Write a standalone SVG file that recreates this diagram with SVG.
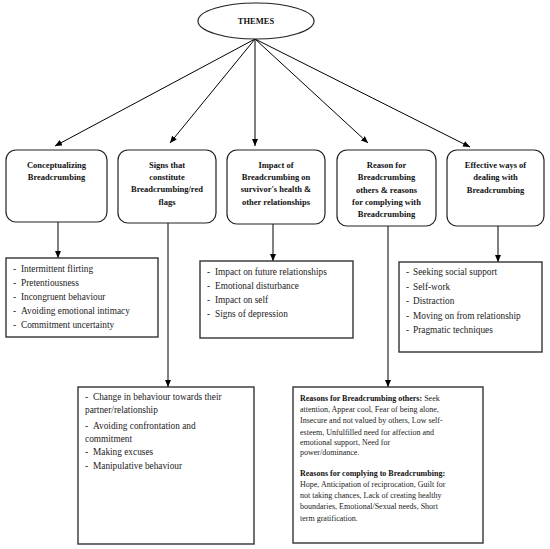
<svg xmlns="http://www.w3.org/2000/svg" width="550" height="549" viewBox="0 0 550 549">
<defs>
<marker id="ah" markerWidth="7" markerHeight="6" refX="7" refY="3" orient="auto" markerUnits="userSpaceOnUse">
<path d="M0,0 L7,3 L0,6 z" fill="#000"/>
</marker>
<style>
.t{font-family:"Liberation Serif","Times New Roman",serif;font-weight:bold;font-size:8.5px;fill:#111;text-anchor:middle}
.l{font-family:"Liberation Serif","Times New Roman",serif;font-size:9.3px;fill:#222}
.s{font-family:"Liberation Serif","Times New Roman",serif;font-size:8px;fill:#222}
.sb{font-weight:bold;fill:#111}
.rb{fill:#fff;stroke:#222;stroke-width:1.2}
.bx{fill:#fff;stroke:#333;stroke-width:1.4}
.c{stroke:#000;stroke-width:1;fill:none;marker-end:url(#ah)}
.cl{stroke:#000;stroke-width:1;fill:none}
</style>
</defs>
<rect width="550" height="549" fill="#fff"/>

<g id="connectors">
<line class="c" x1="255" y1="39" x2="55" y2="146"/>
<line class="c" x1="255" y1="39" x2="170" y2="143"/>
<line class="c" x1="255" y1="39" x2="255" y2="146"/>
<line class="c" x1="255" y1="39" x2="368" y2="143"/>
<line class="c" x1="255" y1="39" x2="470" y2="147"/>
<line class="c" x1="58" y1="222" x2="58" y2="258"/>
<line class="c" x1="168" y1="223" x2="168" y2="387"/>
<line class="c" x1="273" y1="224" x2="273" y2="261"/>
<line class="c" x1="388" y1="226" x2="388" y2="387"/>
<line class="c" x1="498" y1="226" x2="498" y2="262"/>
</g>

<g id="themes">
<ellipse cx="256" cy="21" rx="58" ry="18" fill="#fff" stroke="#222" stroke-width="1.2"/>
<text class="t" x="256" y="24" font-size="8.5">THEMES</text>
</g>

<g id="conceptualizing">
<rect class="rb" x="6" y="150" width="101" height="72" rx="10"/>
<text class="t" x="56.5" y="168">Conceptualizing</text>
<text class="t" x="56.5" y="180">Breadcrumbing</text>
</g>

<g id="signs">
<rect class="rb" x="118" y="150" width="98" height="73" rx="10"/>
<text class="t" x="167" y="168">Signs that</text>
<text class="t" x="167" y="180">constitute</text>
<text class="t" x="167" y="192">Breadcrumbing/red</text>
<text class="t" x="167" y="205">flags</text>
</g>

<g id="impact">
<rect class="rb" x="227" y="150" width="98" height="74" rx="10"/>
<text class="t" x="276" y="168">Impact of</text>
<text class="t" x="276" y="180">Breadcrumbing on</text>
<text class="t" x="276" y="192">survivor's health &amp;</text>
<text class="t" x="276" y="205">other relationships</text>
</g>

<g id="reason">
<rect class="rb" x="337" y="150" width="99" height="76" rx="10"/>
<text class="t" x="386.5" y="168">Reason for</text>
<text class="t" x="386.5" y="180">Breadcrumbing</text>
<text class="t" x="386.5" y="193">others &amp; reasons</text>
<text class="t" x="386.5" y="205">for complying with</text>
<text class="t" x="386.5" y="217">Breadcrumbing</text>
</g>

<g id="effective">
<rect class="rb" x="447" y="150" width="97" height="76" rx="10"/>
<text class="t" x="495.5" y="168">Effective ways of</text>
<text class="t" x="495.5" y="180">dealing with</text>
<text class="t" x="495.5" y="193">Breadcrumbing</text>
</g>

<g id="list-conceptualizing">
<rect class="bx" x="6" y="258" width="152" height="79"/>
<text class="l" x="13" y="272">-</text><text class="l" x="21" y="272">Intermittent flirting</text>
<text class="l" x="13" y="286">-</text><text class="l" x="21" y="286">Pretentiousness</text>
<text class="l" x="13" y="300">-</text><text class="l" x="21" y="300">Incongruent behaviour</text>
<text class="l" x="13" y="314">-</text><text class="l" x="21" y="314">Avoiding emotional intimacy</text>
<text class="l" x="13" y="328">-</text><text class="l" x="21" y="328">Commitment uncertainty</text>
</g>

<g id="list-impact">
<rect class="bx" x="200" y="261" width="153" height="77"/>
<text class="l" x="207" y="275">-</text><text class="l" x="215" y="275">Impact on future relationships</text>
<text class="l" x="207" y="289">-</text><text class="l" x="215" y="289">Emotional disturbance</text>
<text class="l" x="207" y="303">-</text><text class="l" x="215" y="303">Impact on self</text>
<text class="l" x="207" y="317">-</text><text class="l" x="215" y="317">Signs of depression</text>
</g>

<g id="list-effective">
<rect class="bx" x="399" y="262" width="143" height="90"/>
<text class="l" x="406" y="275">-</text><text class="l" x="413" y="275">Seeking social support</text>
<text class="l" x="406" y="290">-</text><text class="l" x="413" y="290">Self-work</text>
<text class="l" x="406" y="304">-</text><text class="l" x="413" y="304">Distraction</text>
<text class="l" x="406" y="319">-</text><text class="l" x="413" y="319">Moving on from relationship</text>
<text class="l" x="406" y="333">-</text><text class="l" x="413" y="333">Pragmatic techniques</text>
</g>

<g id="list-signs">
<rect class="bx" x="78" y="387" width="176" height="157"/>
<text class="l" x="85" y="400">-</text><text class="l" x="93" y="400">Change in behaviour towards their</text>
<text class="l" x="85" y="413">partner/relationship</text>
<text class="l" x="85" y="429">-</text><text class="l" x="93" y="429">Avoiding confrontation and</text>
<text class="l" x="85" y="442">commitment</text>
<text class="l" x="85" y="455">-</text><text class="l" x="93" y="455">Making excuses</text>
<text class="l" x="85" y="469">-</text><text class="l" x="93" y="469">Manipulative behaviour</text>
</g>

<g id="list-reasons">
<rect class="bx" x="293" y="387" width="190" height="156"/>
<text class="s" x="300" y="401"><tspan class="sb">Reasons for Breadcrumbing others:</tspan> Seek</text>
<text class="s" x="300" y="412">attention, Appear cool, Fear of being alone,</text>
<text class="s" x="300" y="423">Insecure and not valued by others, Low self-</text>
<text class="s" x="300" y="435">esteem, Unfulfilled need for affection and</text>
<text class="s" x="300" y="445">emotional support, Need for</text>
<text class="s" x="300" y="455">power/dominance.</text>
<text class="s sb" x="300" y="476">Reasons for complying to Breadcrumbing:</text>
<text class="s" x="300" y="487">Hope, Anticipation of reciprocation, Guilt for</text>
<text class="s" x="300" y="498">not taking chances, Lack of creating healthy</text>
<text class="s" x="300" y="509">boundaries, Emotional/Sexual needs, Short</text>
<text class="s" x="300" y="521">term gratification.</text>
</g>
</svg>
